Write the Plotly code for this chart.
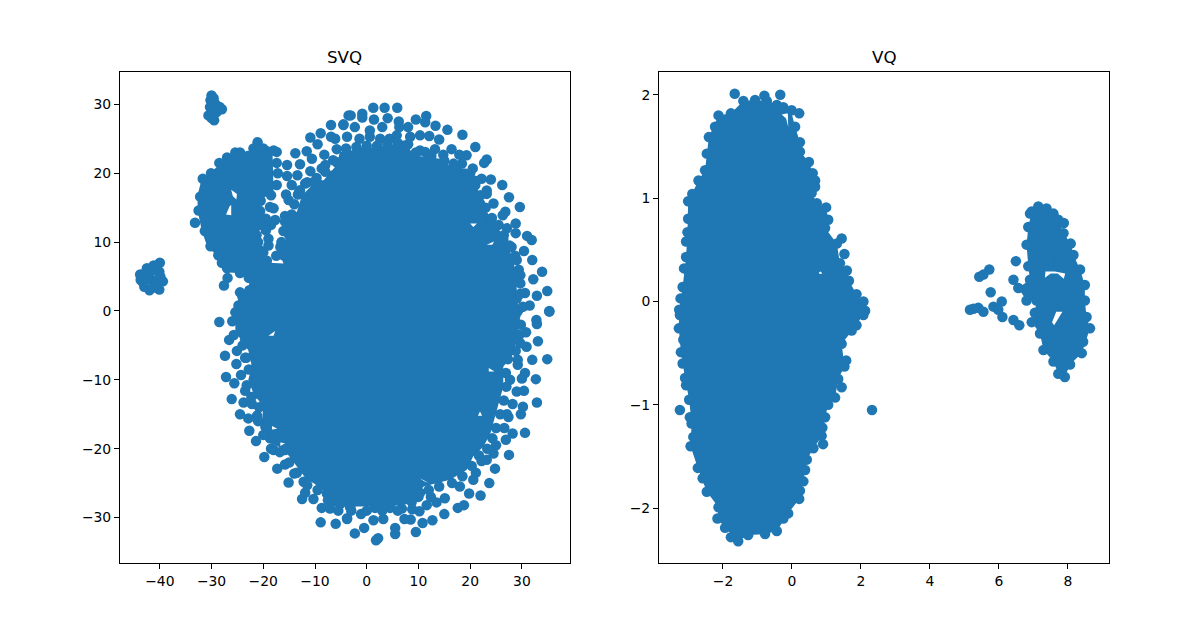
import plotly.graph_objects as go

BLUE = "#1f77b4"

# Individually legible points (x, y in data units).
svq_points = [
 (-30,31.3),(-30.2,30.6),(-30.3,29.6),(-29.3,30.1),(-28,29.3),(-29.5,27.7),(-30.6,28.4),(-29,28.9),(-28.4,29.6),(-30,28),(-29.8,29.2),(-29.6,30.9),
 (-40,7),(-41.2,6.6),(-42.5,6.2),(-43.8,5.3),(-43.7,4.5),(-43,3.5),(-42,3),(-40.1,3.1),(-39.4,4.3),(-40.1,5.7),
 (-41.6,4.5),(-41.9,5.7),(-40.6,4.5),(-42.5,4.7),(-40.9,3.7),(-41,6),(-42.8,5.5),(-41.2,3.4),(-43.3,4.2),(-39.9,5),
 (-33.2,12.8),(-32.5,14.6),(-32.2,16.6),(-31.7,19.2),(-30.1,20),(-25.4,23),(-21.1,24.5),(-21.9,23.6),(-19.3,23.2),
 (-17.4,23.1),(-31.3,11.6),(-30.2,9.4),(-28.7,8.1),(-26.9,4.8),(-27.6,3.7),(-24.5,2.7),(-21.9,3),(-24.8,0.8),
 (-25.4,-0.2),(-27,6.2),
 (-15.4,21.2),(-15.4,19.6),(-12.9,21.3),(-13.4,19.7),(-14.5,18.3),(-13.8,22.9),(-11.6,23.2),(-10.9,25.2),(-9.5,24.2),
 (-8.9,25.8),(-6.9,27),(-6.9,25.3),(-6.1,25),(-4.5,27),(-3.5,28.4),(-8.2,22.7),(-5.8,23.5),(-10.6,22.1),(-10.9,20.3),
 (-8.7,20.7),(-11.9,18.5),(-15.6,16.9),(-15.1,16.1),(-13.3,16.9),(-18.7,15.1),(-18,14.9),(-15.8,13.8),(-17.7,13.2),
 (-16.1,11.6),(-19,10.5),(-16.7,9.3),(-16.1,8.1),(-19,9.5),
 (-5.8,21.6),(-3.8,22.6),(-6.4,19.7),(-9,18.3),(-10.3,18.7),(-5.1,20.7),(-8,21.2),(-12.9,17.5),(-10.9,16.3),
 (-28.5,-1.6),(-26.6,-4.2),(-23.5,-4.1),(-25.1,-5.8),(-27.4,-6.5),(-23.5,-6.8),(-25.2,-7.7),(-27.2,-9.6),(-25.6,-10.5),
 (-24.3,-9.3),(-21.9,-8.5),(-23.5,-11.6),(-21.6,-10.3),(-21.1,-12),(-26.1,-12.8),(-23.8,-13.3),(-22.2,-13.5),(-24.5,-15),
 (-22.9,-15.6),(-21.2,-15.2),(-19.3,-13.9),(-22.7,-17.4),(-21.4,-18.9),(-19.6,-16.8),(-19,-15.8),(-18.7,-18.5),(-18,-20.2),
 (-19.8,-21.2),(-15.8,-20.2),(-17.3,-22.9),(-15.8,-22.3),(-14,-23.6),(-15.1,-24.9),(-12.2,-24.8),(-9.3,-24.6),(-12.5,-27.3),
 (-11.9,-26.4),(-10.3,-27.3),(-7.7,-26.5),(-8.7,-28.6),(-7.1,-28.7),(-8.9,-30.7),(-6,-30.9),(-5.1,-28),(-3.8,-30.1),(-3.2,-28.4),
 (35.3,-0.1),(32.8,-1.3),(32.9,-1.9),(30.8,-3.1),(33.1,-4.4),(30.9,-5.2),(29.7,-4.7),(34.9,-7),(32,-7.1),(29.2,-7.1),(29.2,-7.8),
 (30.6,-9),(32.7,-9.9),(30,-9.8),(27.7,-10),(30.4,-11.6),(29,-11.7),(32.9,-13.3),(28.2,-13.5),(30.2,-13.9),(29.8,-15),(27.4,-15.4),
 (27.1,-15),(26.6,-17),(30.6,-17.7),(28.2,-17.8),(26.9,-18.7),(25,-19.5),(24.5,-20.7),(27.5,-20.9),(23.2,-21.6),(22.2,-21.8),
 (24.8,-22.9),(21.1,-23.5),(20.6,-24.5),(23.7,-25),(18,-25.5),(19.8,-26.5),(22,-26.8),(18.8,-28.2),(17.6,-28.6),(15,-29.5),
 (15.1,-27.2),(13.5,-27.8),(12.4,-27),(11.6,-28.2),(10.2,-29.1),(12.7,-30.4),(10.8,-30.8),(9.5,-32.1),(8.5,-30.3),(7.3,-30.2),
 (5.5,-31.5),(5.5,-32.4),(3.2,-30.2),(2.2,-33),(1.8,-33.3),(1.3,-30.4),(-0.5,-31.5),(-2.3,-32.3),(-1.1,-29.5),(-3.8,-30.2),
 (-3.2,-28.5),(1.6,-28.6),(4.5,-28.6),(6.8,-28.7),(8.7,-27.7),(10.3,-26.4),
 (1.27,29.5),(3.46,29.5),(5.9,29.5),(-3.1,28.4),(-0.86,28.65),(-0.86,28.1),(1.4,27.8),(4.05,28),(6.2,27.5),(-4.5,27.1),(-2.3,26.7),
 (3,26.7),(8,26.7),(9.5,27.8),(11.5,28.3),(11.3,27.4),(13.3,26.9),(15.6,26.3),(18.5,25.6),(21,23.8),(23.2,22),(22.7,21.5),(20.5,20.7),
 (24,19.1),(22.2,19.2),(20.9,18.9),(26.2,18.3),(27.5,16.5),(29.6,15.1),(26.8,14.4),(26.3,13.9),(24.5,15.6),(23.2,17.5),(23.2,17),
 (28.8,12.7),(28.8,11.3),(27.1,12),(31,10.9),(31.9,10.3),(30.4,8.7),(32,7.4),(33.9,5.7),(32.2,4.6),(34.9,2.9),(32.9,2.2),(30.6,2.6),
 (31.5,0.8),(35.3,0),(29.7,5.2),(29,7.4),(28,9.3),
 (0.6,26.2),(0.6,25.3),(-3.8,25.3),(-1.4,25),(2.6,25),(4.4,25),(6.3,26.7),(10.3,25.5),(12.1,25.4),(14,24.9),(10.3,23.3),(11.3,23.1),
 (13.2,23.5),(14.8,22.7),(16.4,23.5),(17.9,22.7),(19.3,22.6),(16.8,21.4),(18.4,21.4),(19,19.7),(17.1,20.2),(14.8,20.9),(12.2,21.4),
 (1.3,22),(2.9,21.9),(-1.3,23.1),(-3.9,22.4),(4.5,23.1),(7.1,24),(5.8,25.5),(8.4,25.3),(20.6,17.3),(19.3,17.8),(21.9,15.6),(23.9,13.2),
 (26.4,10.5),(27.7,9.3),(25.1,9.1),(26.8,6.2),(28.4,4.7),(26.4,3.7),(29,1.8),(25.1,1.8),(27.1,-0.1),(23.9,5.4),
 # the packed band around the solid core
 (-4,23.6),(-2,23.8),(0,24),(2,24),(4,24.2),(6,24.4),(8,24.2),(9.5,23),(12.5,22.5),(15,21.8),(17.5,21),(20,20),(21,18.3),(22,16.8),
 (23,15),(24.2,13.5),(25.5,12.5),(26.5,11),(27.6,9.5),(28.7,8),(29.4,6),(29.7,4),(29.7,2.5),(30.2,0.6),
 (29.8,-2),(29.5,-3.5),(28.8,-5.8),(27.3,-7),(26.9,-9),(27,-11),(26.5,-13),(25.8,-15),(25,-17),(24.3,-18.5),(23.3,-20),(21.7,-21),
 (20.3,-22.5),(18.5,-24),(16.5,-25),(14,-25.5),(12,-26),(10,-27),(8.8,-28.8),(6,-29),(3,-29),(0,-29),(-3,-29),(-5.5,-29),
 (-7.5,-27.5),(-9.5,-26),(-11.5,-25.3),(-13.5,-23.5),(-15,-22),(-16.8,-20.5),(-18.5,-20),(-20,-18),(-21,-16),(-20.8,-14),(-22.3,-12.5),
 (-23.2,-10.8),(-22.8,-8.5),(-23.3,-6.8),(-24,-5),(-25.7,-3.5),(-26,-1.5),
 (-6.5,21.9),(-8,20.2),(-9.7,19.3),(-11.5,18.7),(-13,17.5),(-14,15.5),(-14.5,14),(-15.8,13),(-15,11),(-16.5,10),(-17.5,8),
 (-28,7),(-26,6.3),(-24.5,5.5),(-22.8,4.8),(-22.7,3),(-24,2),
 (-28.5,21.5),(-27,22.3),(-24.5,23),(-23,22.5),(-20,23.6),(-18,23.3),(-17.4,21.5),(-17.2,20),(-17.4,18.3),(-18.5,16.8),(-20.5,16),
 (-20.6,14.5),(-19.5,13.4),(-18.5,12.5),(-19.5,11.7),(-21.3,11),(-21,10),(-20,8.5),(-19.3,7.3),
]

# Outline of the region where the markers overlap into solid colour; holes follow as separate rings.
svq_solid = [
 (-5.2,23.1),(3.2,24),(7.7,24.3),(9,22.6),(14.2,22.1),(16.8,20.7),(19.3,20.7),(20.3,19.2),(20.6,18),(21.9,16.3),(23.2,14.4),(25.1,12.4),
 (27.1,10),(28.4,7.1),(29,4.7),(29,1.3),(30.3,-0.1),(29.7,-0.8),(29,-4.2),(28.4,-6.2),(26.4,-8.1),(26.4,-11),(25.1,-14.4),(23.9,-17.8),
 (22.6,-19.7),(20.6,-21.1),(19.3,-23.1),(16.1,-24.5),(11,-25.5),(8.4,-28),(4.5,-28.4),(0,-28.4),(-5.2,-28.4),(-6.4,-28.4),(-9,-25.5),
 (-11.6,-24.5),(-13.5,-22.6),(-16.1,-20),(-18.7,-19.2),(-20.3,-16.3),(-20,-13.9),(-21.9,-12),(-22.9,-10),(-22.2,-8.1),(-22.9,-5.7),
 (-25.4,-3),(-25.4,-0.8),(-25,1.5),(-23.5,2),(-22.5,4.5),(-26,5.7),(-27,6.5),(-29,8.1),(-30.9,9.5),(-31.9,11.7),(-32.7,14.6),
 (-32.7,16.8),(-31.9,19.2),(-30,20.2),(-25.8,23.1),(-22.9,22.1),(-21.9,23.8),(-18.2,22.8),(-18,18.5),(-18,17.2),(-20.6,16.2),(-20.8,14.4),
 (-19,13.4),(-18.6,12.6),(-21.4,11.4),(-21.2,10),(-19.8,9.3),(-18.9,7),(-16.1,6.9),(-17.4,9.6),(-15.4,10.5),(-16.1,13.4),(-13.5,14.4),
 (-12.5,16.8),(-10.9,18),(-8.3,19),(-5.8,21.2),(-5.2,23.1),
]
svq_holes = [
 [(-26.2,17.6),(-25.9,16.7),(-25.2,16.2),(-25.1,17),(-26.2,17.6)],
 [(-26.5,15.2),(-27.2,14),(-26.2,13.9),(-26.2,15.4),(-26.5,15.2)],
 [(20,12.7),(20.6,12.2),(21.3,12.7),(20,12.7)],
 [(23.2,9.6),(24.3,9.6),(24.6,10.1),(23.2,9.6)],
 [(23.6,-8.3),(24.7,-8.8),(23.6,-8.8),(23.6,-8.3)],
 [(21.5,-15.2),(22.3,-15.2),(21.9,-14.6),(21.5,-15.2)],
 [(10.3,-24.3),(12,-25),(11,-24.7),(10.3,-24.3)],
 [(-18.3,-16.7),(-17.3,-17.1),(-18.3,-17.2),(-18.3,-16.7)],
 [(-16.7,-19.1),(-15.8,-19.2),(-16.7,-19.6),(-16.7,-19.1)],
 [(-19,-3.6),(-17.7,-2.9),(-18,-3.6),(-19,-3.6)],
 [(-4.2,22.3),(-3.8,22),(-3.4,22.3),(-4.2,22.3)],
]

vq_points = [
 (-1.66,2.01),(-1.41,1.94),(-1.77,1.82),(-2.13,1.8),(-2.23,1.69),(-2.41,1.59),(-2.47,1.43),(-2.52,1.27),(-2.71,1.17),(-2.89,1.04),
 (-3.01,0.97),(-2.86,0.9),(-3.01,0.8),(-3.03,0.67),(-3.07,0.58),(-3.07,0.43),(-3.13,0.32),(-3.17,0.14),(-3.23,0.03),(-3.27,-0.08),
 (-1.07,1.95),(-0.8,1.99),(-0.73,1.94),(-0.34,2),(-0.44,1.9),(-0.25,1.88),(-0.01,1.85),(0.21,1.82),(0.09,1.69),(0.23,1.54),(0.23,1.45),
 (0.49,1.35),(0.6,1.24),(0.67,1.17),(0.67,1.11),(0.57,1.05),(0.72,0.95),(0.99,0.91),(1.05,0.79),(0.96,0.71),(1.44,0.61),(1.3,0.56),
 (1.52,0.46),(1.39,0.37),(1.59,0.3),(1.65,0.2),(1.87,0.07),(2.07,0),(2.12,-0.09),
 (2.07,-0.13),(1.87,-0.23),(1.73,-0.28),(1.44,-0.41),(1.57,-0.57),(1.52,-0.63),(1.34,-0.75),(1.44,-0.83),(1.25,-0.93),(1.05,-1),
 (2.32,-1.05),(0.96,-1.12),(0.88,-1.22),(0.86,-1.3),(0.9,-1.38),(0.62,-1.42),(0.43,-1.53),(0.38,-1.63),(0.33,-1.74),(0.23,-1.83),
 (0.21,-1.91),(-0.11,-2.05),(-0.25,-2.1),(-0.44,-2.22),(-0.78,-2.25),(-1.27,-2.26),(-1.56,-2.32),(-1.77,-2.28),(-1.94,-2.19),
 (-2.16,-2.1),(-2.13,-1.99),(-2.47,-1.84),(-2.59,-1.71),(-2.73,-1.61),(-2.94,-1.4),(-2.86,-1.31),(-2.91,-1.18),(-2.96,-1.12),
 (-3.25,-1.05),(-2.98,-0.95),(-3.07,-0.81),(-3.1,-0.74),(-3.17,-0.6),(-3.22,-0.49),(-3.15,-0.37),(-3.28,-0.26),(-3.25,-0.13),
 (7.14,0.92),(6.95,0.87),(7.38,0.9),(7.58,0.85),(7.72,0.79),(7.88,0.76),(7.87,0.66),(8.08,0.56),(8.16,0.45),(8.35,0.31),(8.49,0.16),
 (8.49,0.01),(8.54,-0.15),(8.64,-0.26),(8.44,-0.39),(8.4,-0.5),(8.06,-0.61),(7.91,-0.73),(7.72,-0.7),(7.58,-0.58),(7.29,-0.47),
 (7.19,-0.31),(6.95,-0.2),(7.04,-0.11),(7.09,0.01),(6.8,0.01),(6.56,0.13),(6.42,0.21),(6.9,0.21),(6.85,0.34),(6.49,0.39),(6.8,0.55),
 (6.85,0.72),(6.9,0.85),
 (5.43,0.24),(5.72,0.31),(5.55,0.26),(5.76,0.09),(5.16,-0.08),(5.4,-0.06),(5.55,-0.1),(5.84,-0.05),(6.08,0),(6.1,-0.15),(6.42,-0.18),
 (6.59,-0.23),(5.98,-0.08),(5.26,-0.07),
 (7.5,0.13),(7.35,0.02),(7.75,-0.02),(7.5,-0.02),(7.25,-0.1),(7.2,0.42),(7.5,0.4),(7.8,0.4),(7.25,-0.2),(7.95,-0.2),(7.55,-0.33),
]

vq_solid = [
 (-1.41,1.94),(-1.07,1.95),(-0.73,1.94),(-0.25,1.88),(-0.01,1.82),(0.09,1.69),(0.23,1.54),(0.23,1.45),(0.49,1.35),(0.6,1.24),(0.67,1.14),
 (0.57,1.05),(0.72,0.95),(0.99,0.91),(1.05,0.79),(0.96,0.71),(1.3,0.56),(1.39,0.37),(1.59,0.3),(1.65,0.2),(1.87,0.07),(2.12,-0.09),
 (1.87,-0.23),(1.44,-0.41),(1.52,-0.63),(1.34,-0.75),(1.25,-0.93),(1.05,-1),(0.96,-1.12),(0.88,-1.3),(0.62,-1.42),(0.43,-1.53),(0.33,-1.74),
 (0.21,-1.91),(-0.11,-2.05),(-0.44,-2.22),(-0.78,-2.25),(-1.27,-2.26),(-1.56,-2.32),(-1.94,-2.19),(-2.16,-2.1),(-2.13,-1.99),(-2.47,-1.84),
 (-2.73,-1.61),(-2.94,-1.4),(-2.91,-1.18),(-2.98,-0.95),(-3.1,-0.74),(-3.22,-0.49),(-3.28,-0.26),(-3.27,-0.08),(-3.17,0.14),(-3.07,0.43),
 (-3.03,0.67),(-3.01,0.97),(-2.71,1.17),(-2.52,1.27),(-2.41,1.59),(-2.13,1.8),(-1.77,1.82),(-1.41,1.94),
]
vq_cluster_solid = [
 (7.14,0.92),(7.38,0.9),(7.72,0.79),(7.87,0.66),(8.08,0.56),(8.16,0.45),(8.35,0.31),(8.49,0.16),(8.49,0.01),(8.54,-0.15),(8.64,-0.26),
 (8.4,-0.5),(8.06,-0.61),(7.91,-0.73),(7.72,-0.7),(7.58,-0.58),(7.29,-0.47),(7.19,-0.31),(6.95,-0.2),(7.04,-0.11),(7.09,0.01),(6.8,0.01),
 (6.56,0.13),(6.9,0.21),(6.85,0.34),(6.8,0.55),(6.85,0.72),(6.95,0.87),(7.14,0.92),
]
vq_holes = [
 [(0.78,0.28),(0.83,0.29),(0.88,0.27),(0.8,0.265),(0.78,0.28)],
 [(-0.3,1.81),(-0.12,1.82),(-0.11,1.69),(-0.17,1.77),(-0.3,1.81)],
 [(7.35,0.29),(7.33,0.23),(7.5,0.27),(7.7,0.27),(7.88,0.22),(7.92,0.27),(7.62,0.29),(7.35,0.29)],
 [(7.66,-0.1),(7.54,-0.2),(7.6,-0.23),(7.7,-0.17),(7.84,-0.1),(7.66,-0.1)],
]

svq_ticks_x = [-40, -30, -20, -10, 0, 10, 20, 30]
svq_ticks_y = [-30, -20, -10, 0, 10, 20, 30]
vq_ticks_x = [-2, 0, 2, 4, 6, 8]
vq_ticks_y = [-2, -1, 0, 1, 2]


def signed_area(ring):
    return sum(a[0] * b[1] - b[0] * a[1] for a, b in zip(ring, ring[1:]))


def rings(outers, holes):
    """Outer rings clockwise, holes counter-clockwise, so the holes stay empty."""
    xs, ys = [], []
    for ring in outers:
        ring = ring if signed_area(ring) < 0 else ring[::-1]
        xs += [p[0] for p in ring] + [None]
        ys += [p[1] for p in ring] + [None]
    for ring in holes:
        ring = ring if signed_area(ring) > 0 else ring[::-1]
        xs += [p[0] for p in ring] + [None]
        ys += [p[1] for p in ring] + [None]
    return xs, ys


fig = go.Figure()


def add_panel(points, outers, holes, xa, ya):
    sx, sy = rings(outers, holes)
    fig.add_trace(go.Scatter(x=sx, y=sy, mode="lines", fill="toself", fillcolor=BLUE,
                             line=dict(color=BLUE, width=0), hoverinfo="skip",
                             xaxis=xa, yaxis=ya, showlegend=False))
    fig.add_trace(go.Scatter(x=[p[0] for p in points], y=[p[1] for p in points], mode="markers",
                             marker=dict(color=BLUE, size=10.5, line=dict(width=0)),
                             xaxis=xa, yaxis=ya, showlegend=False))


add_panel(svq_points, [svq_solid], svq_holes, "x", "y")
add_panel(vq_points, [vq_solid, vq_cluster_solid], vq_holes, "x2", "y2")

W, H = 1196, 628
PAGE = 8  # the page's own body margin shifts the plot by this many pixels
common = dict(showgrid=False, zeroline=False, showline=True, mirror=True, linecolor="black", linewidth=1,
              ticks="outside", ticklen=5, tickwidth=1, tickcolor="black",
              tickfont=dict(family="DejaVu Sans", size=13.9, color="black"))
ydom = [(H-563+PAGE)/H, (H-72+PAGE)/H]

fig.update_layout(
    width=W, height=H, margin=dict(l=0, r=0, t=0, b=0), paper_bgcolor="white", plot_bgcolor="white",
    showlegend=False,
    xaxis=dict(domain=[(120-PAGE)/W, (570-PAGE)/W], range=[-47.7, 39.3], tickvals=svq_ticks_x, **common),
    yaxis=dict(domain=ydom, range=[-36.6, 34.7], tickvals=svq_ticks_y, **common),
    xaxis2=dict(domain=[(659-PAGE)/W, (1109-PAGE)/W], range=[-3.855, 9.19], tickvals=vq_ticks_x, anchor="y2", **common),
    yaxis2=dict(domain=ydom, range=[-2.53, 2.22], tickvals=vq_ticks_y, anchor="x2", **common),
    annotations=[
        dict(text="SVQ", x=(344-PAGE)/W, y=(H-69+PAGE)/H, xref="paper", yref="paper", xanchor="center", yanchor="bottom",
             showarrow=False, font=dict(family="DejaVu Sans", size=16.7, color="black")),
        dict(text="VQ", x=(884-PAGE)/W, y=(H-69+PAGE)/H, xref="paper", yref="paper", xanchor="center", yanchor="bottom",
             showarrow=False, font=dict(family="DejaVu Sans", size=16.7, color="black")),
    ],
)

fig.write_html("out.html")
